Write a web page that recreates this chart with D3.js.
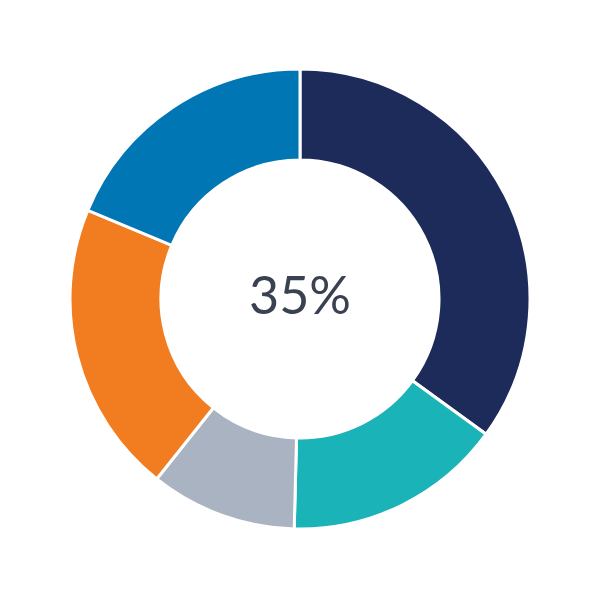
<!DOCTYPE html>
<html>
<head>
<meta charset="utf-8">
<script src="https://cdn.jsdelivr.net/npm/d3@7"></script>
<style>
  html, body { margin: 0; padding: 0; background: #fff; }
</style>
</head>
<body>
<div id="chart"></div>
<script>
const categories = ['A', 'B', 'C', 'D', 'E'];
const values = [35, 15.4, 10.3, 20.6, 18.7];
const sliceColors = ['#1c2b5a', '#1ab3b7', '#a9b3c1', '#f27d20', '#0176b4'];
const centerLabel = '35%';

const width = 600;
const height = 599;
const outerR = 230;
const innerR = 139;

const svg = d3.select('#chart').append('svg')
  .attr('width', width)
  .attr('height', height);

const g = svg.append('g')
  .attr('transform', `translate(${width / 2},${299})`);

const pie = d3.pie().sort(null).value(d => d.value);
const arc = d3.arc().innerRadius(innerR).outerRadius(outerR);

const rows = categories.map((c, i) => ({ name: c, value: values[i] }));

g.selectAll('path')
  .data(pie(rows))
  .join('path')
  .attr('d', arc)
  .attr('fill', (d, i) => sliceColors[i])
  .attr('stroke', '#fff')
  .attr('stroke-width', 3);

g.append('text')
  .text(centerLabel)
  .attr('text-anchor', 'middle')
  .attr('y', 15)
  .attr('fill', '#3a4150')
  .style('font-family', 'Lato, sans-serif')
  .style('font-size', '52px');
</script>
</body>
</html>
